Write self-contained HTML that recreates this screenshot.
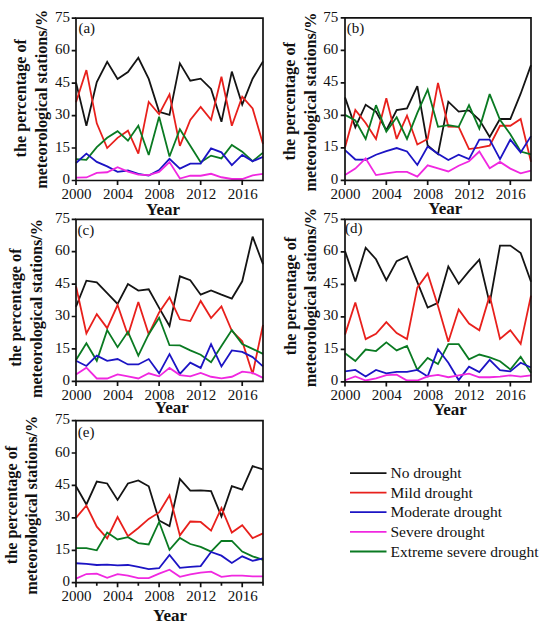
<!DOCTYPE html>
<html><head><meta charset="utf-8"><style>
html,body{margin:0;padding:0;background:#fff;}
body{width:550px;height:629px;overflow:hidden;}
svg{display:block;}
text{font-family:"Liberation Serif",serif;font-size:15px;fill:#111;}
.tt{font-weight:bold;font-size:16.2px;}
.yr{font-weight:bold;font-size:17px;}
.lt{font-size:15.5px;}
.dl polyline{fill:none;stroke-width:1.8;stroke-linejoin:miter;stroke-miterlimit:3;}
.fr{fill:none;stroke:#111;stroke-width:1.7;}
.lg{stroke-width:1.8;}
.pl{font-size:15px;}
</style></head><body>
<svg width="550" height="629" viewBox="0 0 550 629">
<g class="dl"><polyline points="76,82.41 86.39,125.72 96.78,81.98 107.17,61.84 117.56,78.95 127.94,72.02 138.33,57.73 148.72,78.95 159.11,111.86 169.5,114.89 179.89,63.36 190.28,80.68 200.67,78.73 211.06,88.91 221.44,121.82 231.83,71.58 242.22,104.5 252.61,78.73 263,61.41" stroke="#141414"/>
<polyline points="76,102.33 86.39,70.07 96.78,123.34 107.17,148.02 117.56,137.84 127.94,130.7 138.33,153.65 148.72,101.9 159.11,114.24 169.5,94.32 179.89,145.85 190.28,119.87 200.67,106.88 211.06,119.87 221.44,76.78 231.83,125.72 242.22,96.7 252.61,108.39 263,143.91" stroke="#e8201c"/>
<polyline points="76,159.06 86.39,159.93 96.78,147.15 107.17,137.84 117.56,131.13 127.94,140.66 138.33,125.72 148.72,154.95 159.11,116.84 169.5,156.46 179.89,129.18 190.28,145.85 200.67,162.31 211.06,155.6 221.44,158.41 231.83,144.99 242.22,151.7 252.61,161.23 263,152.57" stroke="#0a7a22"/>
<polyline points="76,162.96 86.39,153.65 96.78,161.88 107.17,166.43 117.56,171.84 127.94,170.54 138.33,173.79 148.72,175.52 159.11,170.11 169.5,158.85 179.89,168.59 190.28,163.61 200.67,163.61 211.06,148.45 221.44,152.35 231.83,165.13 242.22,154.95 252.61,161.23 263,156.9" stroke="#1c14c4"/>
<polyline points="76,177.69 86.39,177.47 96.78,172.92 107.17,172.27 117.56,167.29 127.94,171.62 138.33,174.65 148.72,175.09 159.11,171.84 169.5,162.09 179.89,178.55 190.28,175.74 200.67,175.74 211.06,173.79 221.44,177.25 231.83,178.98 242.22,178.98 252.61,175.3 263,173.79" stroke="#f028e0"/></g>
<path d="M76 18.1H263V180.5H76Z" class="fr"/>
<path d="M71.7 180.5H76M71.7 148.02H76M71.7 115.54H76M71.7 83.06H76M71.7 50.58H76M71.7 18.1H76M76 180.5V185.1M117.56 180.5V185.1M159.11 180.5V185.1M200.67 180.5V185.1M242.22 180.5V185.1" class="fr"/>
<g class="lb"><text x="70" y="184.1" text-anchor="end">0</text>
<text x="70" y="151.62" text-anchor="end">15</text>
<text x="70" y="119.14" text-anchor="end">30</text>
<text x="70" y="86.66" text-anchor="end">45</text>
<text x="70" y="54.18" text-anchor="end">60</text>
<text x="70" y="21.7" text-anchor="end">75</text>
<text x="76.5" y="198.9" text-anchor="middle">2000</text>
<text x="118.06" y="198.9" text-anchor="middle">2004</text>
<text x="159.61" y="198.9" text-anchor="middle">2008</text>
<text x="201.17" y="198.9" text-anchor="middle">2012</text>
<text x="242.72" y="198.9" text-anchor="middle">2016</text>
<text x="78.4" y="33.3" class="pl">(a)</text></g>
<text class="tt" transform="translate(25.6 98.2) rotate(-90)" text-anchor="middle">the percentage of</text>
<text class="tt" transform="translate(46.7 99.3) rotate(-90)" text-anchor="middle">meteorological stations/%</text>
<text class="yr" x="163" y="215" text-anchor="middle">Year</text>
<g class="dl"><polyline points="345,97.37 355.33,127.25 365.67,104.73 376,111.66 386.33,130.28 396.67,110.14 407,108.41 417.33,86.11 427.67,145.44 438,154.1 448.33,101.7 458.67,111.66 469,110.36 479.33,119.89 489.67,136.99 500,119.02 510.33,119.02 520.67,93.69 531,65.1" stroke="#141414"/>
<polyline points="345,147.39 355.33,109.93 365.67,122.92 376,138.94 386.33,98.23 396.67,138.94 407,115.56 417.33,144.57 427.67,138.94 438,82.86 448.33,126.6 458.67,126.82 469,149.12 479.33,147.6 489.67,145.65 500,125.73 510.33,125.73 520.67,119.02 531,161.89" stroke="#e8201c"/>
<polyline points="345,114.91 355.33,120.54 365.67,138.94 376,105.16 386.33,131.58 396.67,117.29 407,138.94 417.33,112.96 427.67,89.57 438,126.82 448.33,125.08 458.67,126.82 469,105.16 479.33,128.55 489.67,94.12 500,119.89 510.33,134.18 520.67,151.5 531,154.32" stroke="#0a7a22"/>
<polyline points="345,150.2 355.33,159.51 365.67,159.73 376,154.75 386.33,151.07 396.67,148.04 407,151.5 417.33,164.93 427.67,146.52 438,153.67 448.33,159.95 458.67,154.75 469,159.08 479.33,139.59 489.67,139.59 500,159.08 510.33,139.59 520.67,152.37 531,136.13" stroke="#1c14c4"/>
<polyline points="345,175.1 355.33,168.61 365.67,158.43 376,175.1 386.33,173.37 396.67,171.86 407,171.86 417.33,176.62 427.67,165.36 438,168.39 448.33,171.42 458.67,165.79 469,161.25 479.33,151.5 489.67,168.17 500,161.89 510.33,168.61 520.67,173.37 531,170.56" stroke="#f028e0"/></g>
<path d="M345 17.9H531V180.3H345Z" class="fr"/>
<path d="M340.7 180.3H345M340.7 147.82H345M340.7 115.34H345M340.7 82.86H345M340.7 50.38H345M340.7 17.9H345M345 180.3V184.9M386.33 180.3V184.9M427.67 180.3V184.9M469 180.3V184.9M510.33 180.3V184.9" class="fr"/>
<g class="lb"><text x="338.2" y="183.9" text-anchor="end">0</text>
<text x="338.2" y="151.42" text-anchor="end">15</text>
<text x="338.2" y="118.94" text-anchor="end">30</text>
<text x="338.2" y="86.46" text-anchor="end">45</text>
<text x="338.2" y="53.98" text-anchor="end">60</text>
<text x="338.2" y="21.5" text-anchor="end">75</text>
<text x="345.5" y="198.7" text-anchor="middle">2000</text>
<text x="386.83" y="198.7" text-anchor="middle">2004</text>
<text x="428.17" y="198.7" text-anchor="middle">2008</text>
<text x="469.5" y="198.7" text-anchor="middle">2012</text>
<text x="510.83" y="198.7" text-anchor="middle">2016</text>
<text x="346.7" y="33.3" class="pl">(b)</text></g>
<text class="tt" transform="translate(295 101.3) rotate(-90)" text-anchor="middle">the percentage of</text>
<text class="tt" transform="translate(315.6 102) rotate(-90)" text-anchor="middle">meteorological stations/%</text>
<text class="yr" x="445.3" y="214" text-anchor="middle">Year</text>
<g class="dl"><polyline points="76,306.78 86.39,280.64 96.78,282.37 107.17,293.17 117.56,303.97 127.94,284.1 138.33,290.58 148.72,289.28 159.11,307.86 169.5,326 179.89,276.32 190.28,280.21 200.67,294.68 211.06,290.36 221.44,294.68 231.83,298.57 242.22,281.29 252.61,236.58 263,264.23" stroke="#141414"/>
<polyline points="76,286.26 86.39,333.35 96.78,314.12 107.17,328.16 117.56,305.05 127.94,335.29 138.33,302.03 148.72,334.21 159.11,312.4 169.5,297.28 179.89,319.31 190.28,321.04 200.67,300.95 211.06,318.01 221.44,306.35 231.83,330.76 242.22,341.34 252.61,373.96 263,324.92" stroke="#e8201c"/>
<polyline points="76,359.92 86.39,343.28 96.78,360.78 107.17,330.11 117.56,347.17 127.94,331.84 138.33,355.6 148.72,334.21 159.11,317.8 169.5,345.23 179.89,345.44 190.28,350.41 200.67,354.73 211.06,362.29 221.44,346.09 231.83,330.11 242.22,344.15 252.61,348.9 263,353.87" stroke="#0a7a22"/>
<polyline points="76,360.78 86.39,365.96 96.78,355.6 107.17,360.78 117.56,359.05 127.94,364.45 138.33,364.45 148.72,359.05 159.11,373.31 169.5,354.08 179.89,373.96 190.28,362.72 200.67,367.91 211.06,344.15 221.44,366.4 231.83,350.41 242.22,351.92 252.61,357.11 263,366.4" stroke="#1c14c4"/>
<polyline points="76,374.39 86.39,367.69 96.78,378.49 107.17,378.49 117.56,374.39 127.94,376.33 138.33,378.49 148.72,373.31 159.11,376.33 169.5,367.91 179.89,375.04 190.28,376.33 200.67,372.88 211.06,376.76 221.44,378.28 231.83,376.76 242.22,371.58 252.61,372.88 263,377.84" stroke="#f028e0"/></g>
<path d="M76 219.3H263V381.3H76Z" class="fr"/>
<path d="M71.7 381.3H76M71.7 348.9H76M71.7 316.5H76M71.7 284.1H76M71.7 251.7H76M71.7 219.3H76M76 381.3V385.9M117.56 381.3V385.9M159.11 381.3V385.9M200.67 381.3V385.9M242.22 381.3V385.9" class="fr"/>
<g class="lb"><text x="70" y="384.9" text-anchor="end">0</text>
<text x="70" y="352.5" text-anchor="end">15</text>
<text x="70" y="320.1" text-anchor="end">30</text>
<text x="70" y="287.7" text-anchor="end">45</text>
<text x="70" y="255.3" text-anchor="end">60</text>
<text x="70" y="222.9" text-anchor="end">75</text>
<text x="76.5" y="399.7" text-anchor="middle">2000</text>
<text x="118.06" y="399.7" text-anchor="middle">2004</text>
<text x="159.61" y="399.7" text-anchor="middle">2008</text>
<text x="201.17" y="399.7" text-anchor="middle">2012</text>
<text x="242.72" y="399.7" text-anchor="middle">2016</text>
<text x="77.6" y="235.1" class="pl">(c)</text></g>
<text class="tt" transform="translate(21.3 307.6) rotate(-90)" text-anchor="middle">the percentage of</text>
<text class="tt" transform="translate(41.7 308.5) rotate(-90)" text-anchor="middle">meteorological stations/%</text>
<text class="yr" x="171.8" y="413.3" text-anchor="middle">Year</text>
<g class="dl"><polyline points="345,251.01 355.33,281.55 365.67,247.77 376,259.24 386.33,280.25 396.67,261.19 407,256.43 417.33,282.19 427.67,307.53 438,302.77 448.33,266.39 458.67,283.71 469,271.15 479.33,259.68 489.67,303.41 500,245.6 510.33,245.6 520.67,252.96 531,281.76" stroke="#141414"/>
<polyline points="345,334.6 355.33,302.55 365.67,339.14 376,333.73 386.33,322.04 396.67,333.08 407,339.14 417.33,287.61 427.67,273.53 438,306.01 448.33,341.74 458.67,309.48 469,323.55 479.33,330.27 489.67,295.62 500,338.93 510.33,330.27 520.67,343.91 531,295.62" stroke="#e8201c"/>
<polyline points="345,353.22 355.33,361.01 365.67,349.54 376,351.05 386.33,342.39 396.67,350.4 407,345.86 417.33,369.89 427.67,357.98 438,364.04 448.33,344.12 458.67,344.12 469,359.28 479.33,354.52 489.67,357.33 500,361.23 510.33,369.46 520.67,356.68 531,372.71" stroke="#0a7a22"/>
<polyline points="345,371.41 355.33,369.89 365.67,376.39 376,369.89 386.33,373.36 396.67,371.84 407,371.84 417.33,369.89 427.67,376.39 438,349.32 448.33,362.75 458.67,380.07 469,366.64 479.33,372.06 489.67,359.93 500,370.11 510.33,371.41 520.67,362.75 531,367.51" stroke="#1c14c4"/>
<polyline points="345,380.28 355.33,376.39 365.67,380.5 376,378.34 386.33,375.09 396.67,374.65 407,380.5 417.33,380.5 427.67,376.39 438,374.87 448.33,377.25 458.67,375.3 469,373.57 479.33,377.25 489.67,377.25 500,376.6 510.33,375.3 520.67,376.6 531,375.3" stroke="#f028e0"/></g>
<path d="M345 219.4H531V381.8H345Z" class="fr"/>
<path d="M340.7 381.8H345M340.7 349.32H345M340.7 316.84H345M340.7 284.36H345M340.7 251.88H345M340.7 219.4H345M345 381.8V386.4M386.33 381.8V386.4M427.67 381.8V386.4M469 381.8V386.4M510.33 381.8V386.4" class="fr"/>
<g class="lb"><text x="338.2" y="385.4" text-anchor="end">0</text>
<text x="338.2" y="352.92" text-anchor="end">15</text>
<text x="338.2" y="320.44" text-anchor="end">30</text>
<text x="338.2" y="287.96" text-anchor="end">45</text>
<text x="338.2" y="255.48" text-anchor="end">60</text>
<text x="338.2" y="223" text-anchor="end">75</text>
<text x="345.5" y="400.2" text-anchor="middle">2000</text>
<text x="386.83" y="400.2" text-anchor="middle">2004</text>
<text x="428.17" y="400.2" text-anchor="middle">2008</text>
<text x="469.5" y="400.2" text-anchor="middle">2012</text>
<text x="510.83" y="400.2" text-anchor="middle">2016</text>
<text x="345" y="232.7" class="pl">(d)</text></g>
<text class="tt" transform="translate(296.4 296) rotate(-90)" text-anchor="middle">the percentage of</text>
<text class="tt" transform="translate(315.8 297.6) rotate(-90)" text-anchor="middle">meteorological stations/%</text>
<text class="yr" x="449.9" y="414.7" text-anchor="middle">Year</text>
<g class="dl"><polyline points="76,486.3 86.39,504.46 96.78,481.55 107.17,483.49 117.56,499.92 127.94,483.49 138.33,480.47 148.72,486.3 159.11,520.45 169.5,526.07 179.89,478.96 190.28,490.63 200.67,490.41 211.06,491.06 221.44,516.35 231.83,486.09 242.22,489.55 252.61,466.2 263,469.45" stroke="#141414"/>
<polyline points="76,517.86 86.39,505.54 96.78,526.72 107.17,538.39 117.56,517 127.94,536.23 138.33,528.02 148.72,518.94 159.11,512.46 169.5,495.38 179.89,535.37 190.28,521.53 200.67,521.97 211.06,530.61 221.44,507.92 231.83,532.56 242.22,525.21 252.61,538.18 263,533.42" stroke="#e8201c"/>
<polyline points="76,548.12 86.39,548.12 96.78,550.28 107.17,532.56 117.56,539.47 127.94,537.1 138.33,543.15 148.72,544.44 159.11,521.97 169.5,549.85 179.89,537.96 190.28,544.01 200.67,546.82 211.06,551.58 221.44,540.99 231.83,540.99 242.22,551.58 252.61,556.33 263,559.79" stroke="#0a7a22"/>
<polyline points="76,563.25 86.39,563.9 96.78,564.98 107.17,564.54 117.56,565.41 127.94,564.98 138.33,566.92 148.72,569.08 159.11,568.22 169.5,555.03 179.89,567.79 190.28,566.92 200.67,566.06 211.06,552.01 221.44,555.68 231.83,563.03 242.22,556.33 252.61,560.87 263,558.28" stroke="#1c14c4"/>
<polyline points="76,578.59 86.39,574.05 96.78,573.62 107.17,577.73 117.56,574.05 127.94,575.57 138.33,578.16 148.72,578.16 159.11,573.62 169.5,569.73 179.89,576.86 190.28,574.49 200.67,572.54 211.06,571.68 221.44,576.86 231.83,575.57 242.22,575.57 252.61,576.43 263,576.43" stroke="#f028e0"/></g>
<path d="M76 420.6H263V582.7H76Z" class="fr"/>
<path d="M71.7 582.7H76M71.7 550.28H76M71.7 517.86H76M71.7 485.44H76M71.7 453.02H76M71.7 420.6H76M76 582.7V587.3M117.56 582.7V587.3M159.11 582.7V587.3M200.67 582.7V587.3M242.22 582.7V587.3M96.78 582.7V585.7M138.33 582.7V585.7M179.89 582.7V585.7M221.44 582.7V585.7M263 582.7V585.7" class="fr"/>
<g class="lb"><text x="70" y="586.3" text-anchor="end">0</text>
<text x="70" y="553.88" text-anchor="end">15</text>
<text x="70" y="521.46" text-anchor="end">30</text>
<text x="70" y="489.04" text-anchor="end">45</text>
<text x="70" y="456.62" text-anchor="end">60</text>
<text x="70" y="424.2" text-anchor="end">75</text>
<text x="76.5" y="601.1" text-anchor="middle">2000</text>
<text x="118.06" y="601.1" text-anchor="middle">2004</text>
<text x="159.61" y="601.1" text-anchor="middle">2008</text>
<text x="201.17" y="601.1" text-anchor="middle">2012</text>
<text x="242.72" y="601.1" text-anchor="middle">2016</text>
<text x="77.8" y="437.1" class="pl">(e)</text></g>
<text class="tt" transform="translate(16.5 505) rotate(-90)" text-anchor="middle">the percentage of</text>
<text class="tt" transform="translate(36.9 505.3) rotate(-90)" text-anchor="middle">meteorological stations/%</text>
<text class="yr" x="170" y="621.3" text-anchor="middle">Year</text>
<path d="M350 473.1H386.5" stroke="#141414" class="lg"/>
<text x="390.5" y="478.1" class="lt">No drought</text>
<path d="M350 492.6H386.5" stroke="#e8201c" class="lg"/>
<text x="390.5" y="497.6" class="lt">Mild drought</text>
<path d="M350 512.2H386.5" stroke="#1c14c4" class="lg"/>
<text x="390.5" y="517.2" class="lt">Moderate drought</text>
<path d="M350 531.8H386.5" stroke="#f028e0" class="lg"/>
<text x="390.5" y="536.8" class="lt">Severe drought</text>
<path d="M350 551.5H386.5" stroke="#0a7a22" class="lg"/>
<text x="390.5" y="556.5" class="lt">Extreme severe drought</text>
</svg>
</body></html>
